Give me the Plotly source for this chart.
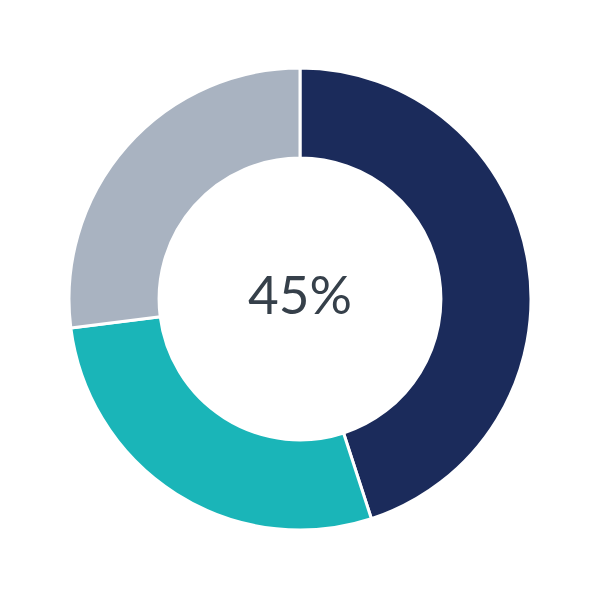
import plotly.graph_objects as go

# Segmentos del anillo (sentido horario desde arriba)
etiquetas = ["Principal", "Secundario", "Otros"]
valores = [45, 28, 27]
colores = ["#1b2b5b", "#1ab5b8", "#a9b3c1"]
texto_centro = "45%"

fig = go.Figure(
    go.Pie(
        labels=etiquetas,
        values=valores,
        hole=0.61,
        sort=False,
        direction="clockwise",
        rotation=0,
        marker=dict(colors=colores, line=dict(color="white", width=3)),
        textinfo="none",
        hoverinfo="label+percent",
        showlegend=False,
    )
)

fig.add_annotation(
    text=texto_centro,
    x=0.5, y=0.5, xref="paper", yref="paper",
    yshift=6,
    showarrow=False,
    font=dict(family="Lato", size=53, color="#36404a"),
)

# el body del html añade 8px de margen, se compensa aquí
fig.update_layout(
    width=600,
    height=599,
    margin=dict(l=61, r=77, t=59, b=76),
    paper_bgcolor="white",
    plot_bgcolor="white",
)

fig.write_html("out.html")
